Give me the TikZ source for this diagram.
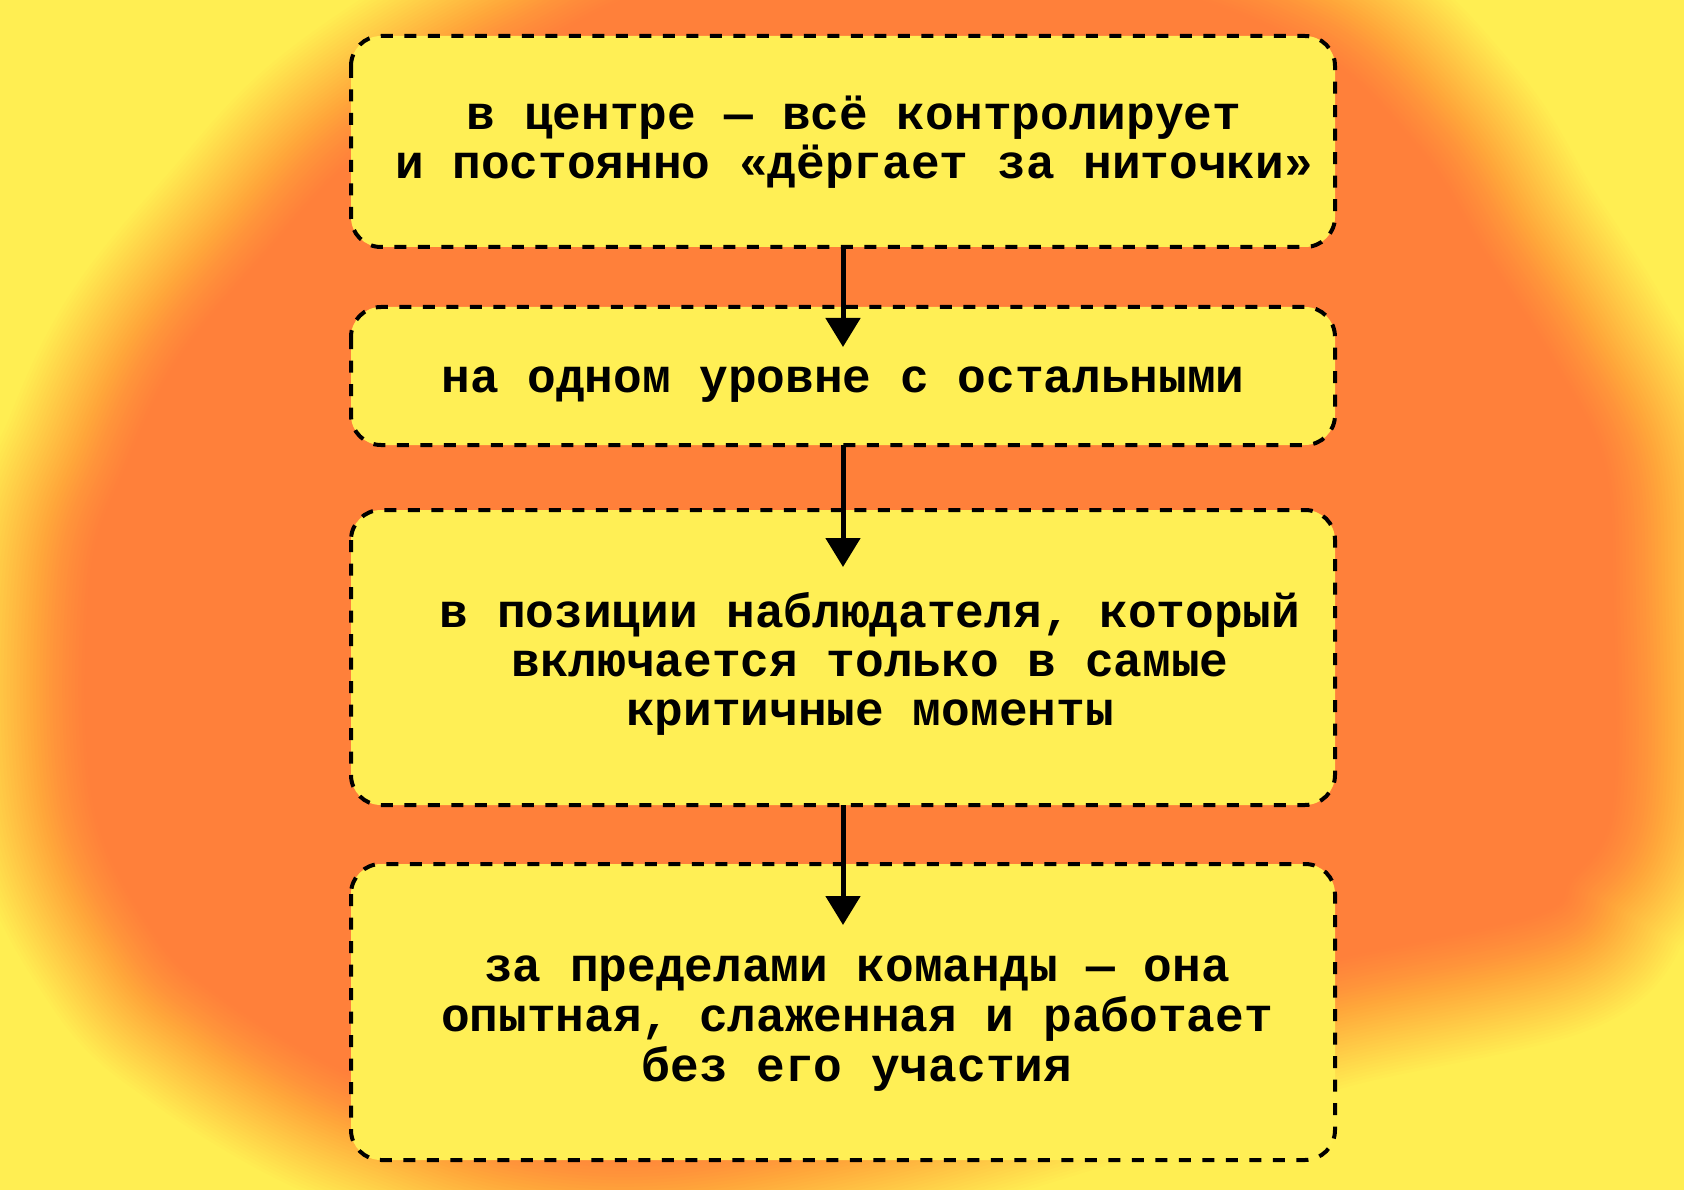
\documentclass[tikz,border=0pt]{standalone}
\usepackage{fontspec}
\setmonofont{Liberation Mono}
\usetikzlibrary{arrows.meta,calc}
\definecolor{bgyellow}{HTML}{FFEE52}
\definecolor{blobor}{HTML}{FF803A}
\definecolor{boxyellow}{HTML}{FFEF55}
\tikzset{
  stepbox/.style={draw=black, line width=4pt, dash pattern=on 12pt off 11.5pt,
    fill=boxyellow, rounded corners=30pt},
  linetext/.style={anchor=base, inner sep=0pt,
    font=\fontsize{47.8pt}{49pt}\selectfont\ttfamily\bfseries},
  flowarrow/.style={line width=5pt, -{Triangle[length=29pt,width=34pt]}}
}
\newcommand{\blobpath}{plot[smooth cycle, tension=0.6] coordinates{
 (530,52) (365,155) (266,259) (181,362) (130,466) (93,580) (96,800)
 (160,935) (225,995) (320,1055) (405,1092) (520,1130) (659,1140)
 (850,1105) (1027,1054) (1209,996) (1326,958) (1533,912) (1568,877)
 (1609,807) (1610,600) (1601,465) (1549,361) (1482,256) (1416,151)
 (1300,46) (1085,-20) (715,-20)}}
\begin{document}
\begin{tikzpicture}[x=1pt,y=-1pt]
\useasboundingbox (0,0) rectangle (1684,1190);
\begin{scope}
\clip (0,0) rectangle (1684,1190);
\fill[bgyellow] (0,0) rectangle (1684,1190);
\foreach \k in {1,...,40}{
  \pgfmathsetmacro{\w}{260*(41-\k)/40}
  \pgfmathsetmacro{\a}{1/(41-\k)}
  \filldraw[blobor, opacity=\a, line width=\w pt, line join=round] \blobpath;
}
\end{scope}
% boxes
\draw[stepbox] (351,36) rectangle (1335,247);
\draw[stepbox] (351,307) rectangle (1335,445);
\draw[stepbox] (351,510) rectangle (1335,805);
\draw[stepbox] (351,864) rectangle (1335,1160);
\coordinate (b1s) at (843,247);
\coordinate (b2s) at (843,445);
\coordinate (b3s) at (843,805);
\coordinate (t2) at (843,347);
\coordinate (t3) at (843,567);
\coordinate (t4) at (843,925);
\draw[flowarrow] (b1s) -- (t2);
\draw[flowarrow] (b2s) -- (t3);
\draw[flowarrow] (b3s) -- (t4);
% texts
\node[linetext] (l11) at (854,130) {в центре — всё контролирует};
\node[linetext] (l12) at (854,179) {и постоянно «дёргает за ниточки»};
\node[linetext] (l21) at (843,392) {на одном уровне с остальными};
\node[linetext] (l31) at (870,627) {в позиции наблюдателя, который};
\node[linetext] (l32) at (870,676) {включается только в самые};
\node[linetext] (l33) at (870,725) {критичные моменты};
\node[linetext] (l41) at (857,981) {за пределами команды — она};
\node[linetext] (l42) at (857,1031) {опытная, слаженная и работает};
\node[linetext] (l43) at (857,1081) {без его участия};
\end{tikzpicture}
\end{document}
